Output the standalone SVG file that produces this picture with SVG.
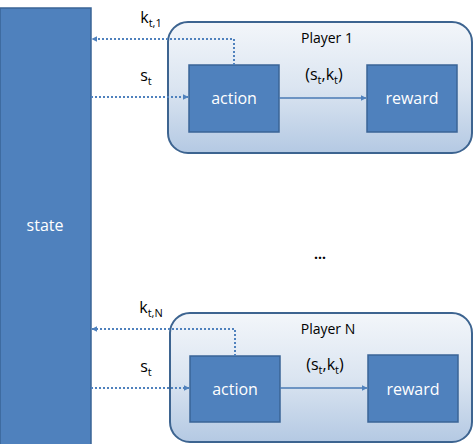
<svg xmlns="http://www.w3.org/2000/svg" width="474" height="444" viewBox="0 0 474 444">
<style>
.blk{fill:#4f81bd;stroke:#3a6496;stroke-width:1.5}
.grp{fill:url(#g);stroke:#3d6490;stroke-width:2}
.wt{fill:#fff;font-family:"Open Sans","Liberation Sans",sans-serif;font-size:16px;text-anchor:middle}
.bt{fill:#000;font-family:"Open Sans","Liberation Sans",sans-serif;font-size:14px;text-anchor:middle}
.lb{font-size:16px}
.sub{font-size:11px}
.dot{fill:none;stroke:#4f81bd;stroke-width:2;stroke-dasharray:2,2}
.sol{fill:none;stroke:#4a7ab5;stroke-width:1.5}
</style>
<defs>
<linearGradient id="g" x1="0" y1="0" x2="0" y2="1">
<stop offset="0" stop-color="#f3f6fa"/>
<stop offset="0.5" stop-color="#dbe5f1"/>
<stop offset="1" stop-color="#b4c9e3"/>
</linearGradient>
<marker id="a" viewBox="0 0 10 10" refX="9" refY="5" markerWidth="6" markerHeight="6" orient="auto" markerUnits="userSpaceOnUse">
<path d="M0,0 L10,5 L0,10 z" fill="#4f81bd"/>
</marker>
</defs>
<g id="state">
<rect class="blk" x="0" y="8" width="91" height="440"/>
<text class="wt" x="45" y="231">state</text>
</g>
<g id="player1">
<rect class="grp" x="168" y="22" width="304" height="131" rx="20"/>
<text class="bt" x="327" y="43">Player 1</text>
</g>
<g id="action1">
<rect class="blk" x="189" y="65" width="90" height="67"/>
<text class="wt" x="234" y="104">action</text>
</g>
<g id="reward1">
<rect class="blk" x="367" y="65" width="90" height="67"/>
<text class="wt" x="412" y="104">reward</text>
</g>
<g id="playerN">
<rect class="grp" x="170" y="313" width="302" height="129" rx="20"/>
<text class="bt" x="328" y="334">Player N</text>
</g>
<g id="actionN">
<rect class="blk" x="190" y="356" width="90" height="66"/>
<text class="wt" x="235" y="395">action</text>
</g>
<g id="rewardN">
<rect class="blk" x="368" y="355" width="90" height="67"/>
<text class="wt" x="413" y="395">reward</text>
</g>
<g id="connectors">
<path class="dot" d="M234,65 V39 H92" marker-end="url(#a)"/>
<path class="dot" d="M91,97 H188" marker-end="url(#a)"/>
<path class="sol" d="M279,98 H366" marker-end="url(#a)"/>
<path class="dot" d="M235,356 V329 H92" marker-end="url(#a)"/>
<path class="dot" d="M91,388 H189" marker-end="url(#a)"/>
<path class="sol" d="M280,388 H367" marker-end="url(#a)"/>
</g>
<g id="labels">
<text class="bt lb" x="151" y="23">k<tspan class="sub" dy="4">t,1</tspan></text>
<text class="bt lb" x="146" y="81">s<tspan class="sub" dy="4">t</tspan></text>
<text class="bt lb" x="324" y="80">(s<tspan class="sub" dy="4">t</tspan><tspan dy="-4">,k</tspan><tspan class="sub" dy="4">t</tspan><tspan dy="-4">)</tspan></text>
<text class="bt lb" x="151" y="313">k<tspan class="sub" dy="4">t,N</tspan></text>
<text class="bt lb" x="146" y="372">s<tspan class="sub" dy="4">t</tspan></text>
<text class="bt lb" x="325" y="370">(s<tspan class="sub" dy="4">t</tspan><tspan dy="-4">,k</tspan><tspan class="sub" dy="4">t</tspan><tspan dy="-4">)</tspan></text>
<text class="bt" x="320" y="259" font-size="18" font-weight="bold">…</text>
</g>
</svg>
